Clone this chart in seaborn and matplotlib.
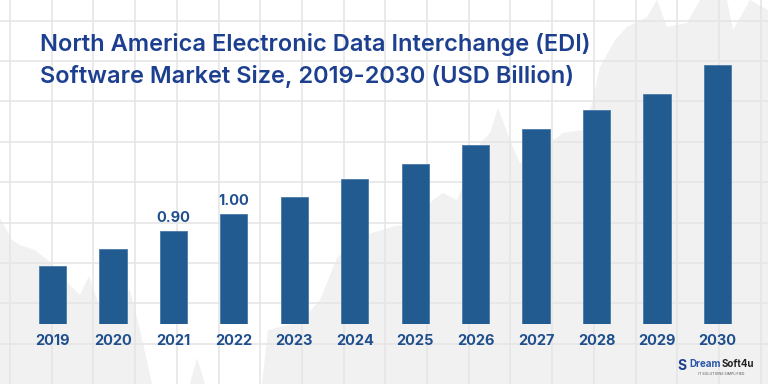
import matplotlib
matplotlib.use("Agg")
import matplotlib.pyplot as plt
import seaborn as sns
import pandas as pd
from matplotlib.patches import Polygon

# ---- data ----
years = ["2019", "2020", "2021", "2022", "2023", "2024", "2025", "2026", "2027", "2028", "2029", "2030"]
values = [0.69, 0.79, 0.90, 1.00, 1.10, 1.21, 1.30, 1.41, 1.51, 1.62, 1.72, 1.89]
labelled_years = ["2021", "2022"]
title_lines = ["North America Electronic Data Interchange (EDI)",
               "Software Market Size, 2019-2030 (USD Billion)"]

BAR = "#215b8f"
TXT = "#1f4f8c"
TITLE = "#1d3f8f"

sns.set_theme(style="white")
plt.rcParams["font.family"] = ["Inter", "DejaVu Sans"]

W, H = 768, 384
fig = plt.figure(figsize=(W / 100, H / 100), dpi=100)
fig.patch.set_facecolor("white")

# ---- decorative background (grid + silhouette) ----
bg = fig.add_axes([0, 0, 1, 1], zorder=0)
bg.set_xlim(0, W)
bg.set_ylim(H, 0)
bg.axis("off")
gx = 10.0
while gx < W:
    bg.axvline(gx, color="#e6e6e6", lw=1.2)
    gx += 41.7
gy = 20.5
while gy < H:
    bg.axhline(gy, color="#e6e6e6", lw=1.2)
    gy += 40.4
sil = [(0, 218), (12, 240), (20, 245), (35, 250), (50, 262), (65, 280), (80, 295), (89, 276),
       (100, 308), (115, 300), (130, 290), (140, 330), (152, 384), (190, 384), (197, 358),
       (205, 384), (262, 384), (268, 330), (300, 322), (320, 300), (337, 258), (355, 240),
       (372, 233), (395, 226), (410, 225), (433, 200), (443, 193), (457, 200), (470, 170),
       (480, 143), (490, 133), (498, 108), (510, 140), (520, 163), (540, 150), (563, 133),
       (583, 130), (593, 100), (600, 67), (615, 40), (627, 27), (647, 17), (657, 0),
       (667, 27), (687, 23), (700, 0), (727, 0), (733, 30), (750, 0), (768, 10),
       (768, 384), (0, 384)]
bg.add_patch(Polygon(sil, closed=True, facecolor="#efefef", edgecolor="none", alpha=0.85))

# ---- bars ----
df = pd.DataFrame({"year": years, "value": values})
ax = fig.add_axes([0, 1 - 324 / H, 1, 324 / H], zorder=1)
ax.patch.set_alpha(0)
sns.barplot(data=df, x="year", y="value", color=BAR, width=0.45, saturation=1,
            edgecolor="#4a7aa8", linewidth=0.6, ax=ax)
ax.set_xlim(-0.868, 11.836)
ax.set_ylim(0.341, 2.281)
for s in ax.spines.values():
    s.set_visible(False)
ax.set_xlabel("")
ax.set_ylabel("")
ax.set_yticks([])
ax.tick_params(axis="x", length=0, pad=7.5)
for t in ax.get_xticklabels():
    t.set_fontsize(10.5)
    t.set_fontweight("bold")
    t.set_color(TXT)

for i, (y, v) in enumerate(zip(years, values)):
    if y in labelled_years:
        ax.annotate(f"{v:.2f}", (i, v), xytext=(0, 4), textcoords="offset points",
                    ha="center", va="bottom", fontsize=10.5, fontweight="bold", color=TXT)

# ---- title ----
fig.text(40 / W, 1 - 45 / H, title_lines[0], fontsize=17, fontweight="semibold",
         color=TITLE, ha="left", va="center")
fig.text(40 / W, 1 - 77 / H, title_lines[1], fontsize=17, fontweight="semibold",
         color=TITLE, ha="left", va="center")

# ---- logo ----
fig.text(720.5 / W, 1 - 364 / H, "Dream", fontsize=7, fontweight="bold", color="#2a55a8",
         ha="right", va="center")
fig.text(721.5 / W, 1 - 364 / H, "Soft4u", fontsize=7, fontweight="bold", color="#222222",
         ha="left", va="center")
fig.text(721 / W, 1 - 374 / H, "IT SOLUTIONS SIMPLIFIED", fontsize=2.6, color="#555555",
         ha="center", va="center")
fig.text(682 / W, 1 - 366 / H, "S", fontsize=10, fontweight="bold", color="#1d3f8f",
         ha="center", va="center")

fig.savefig("out.png", dpi=100)
